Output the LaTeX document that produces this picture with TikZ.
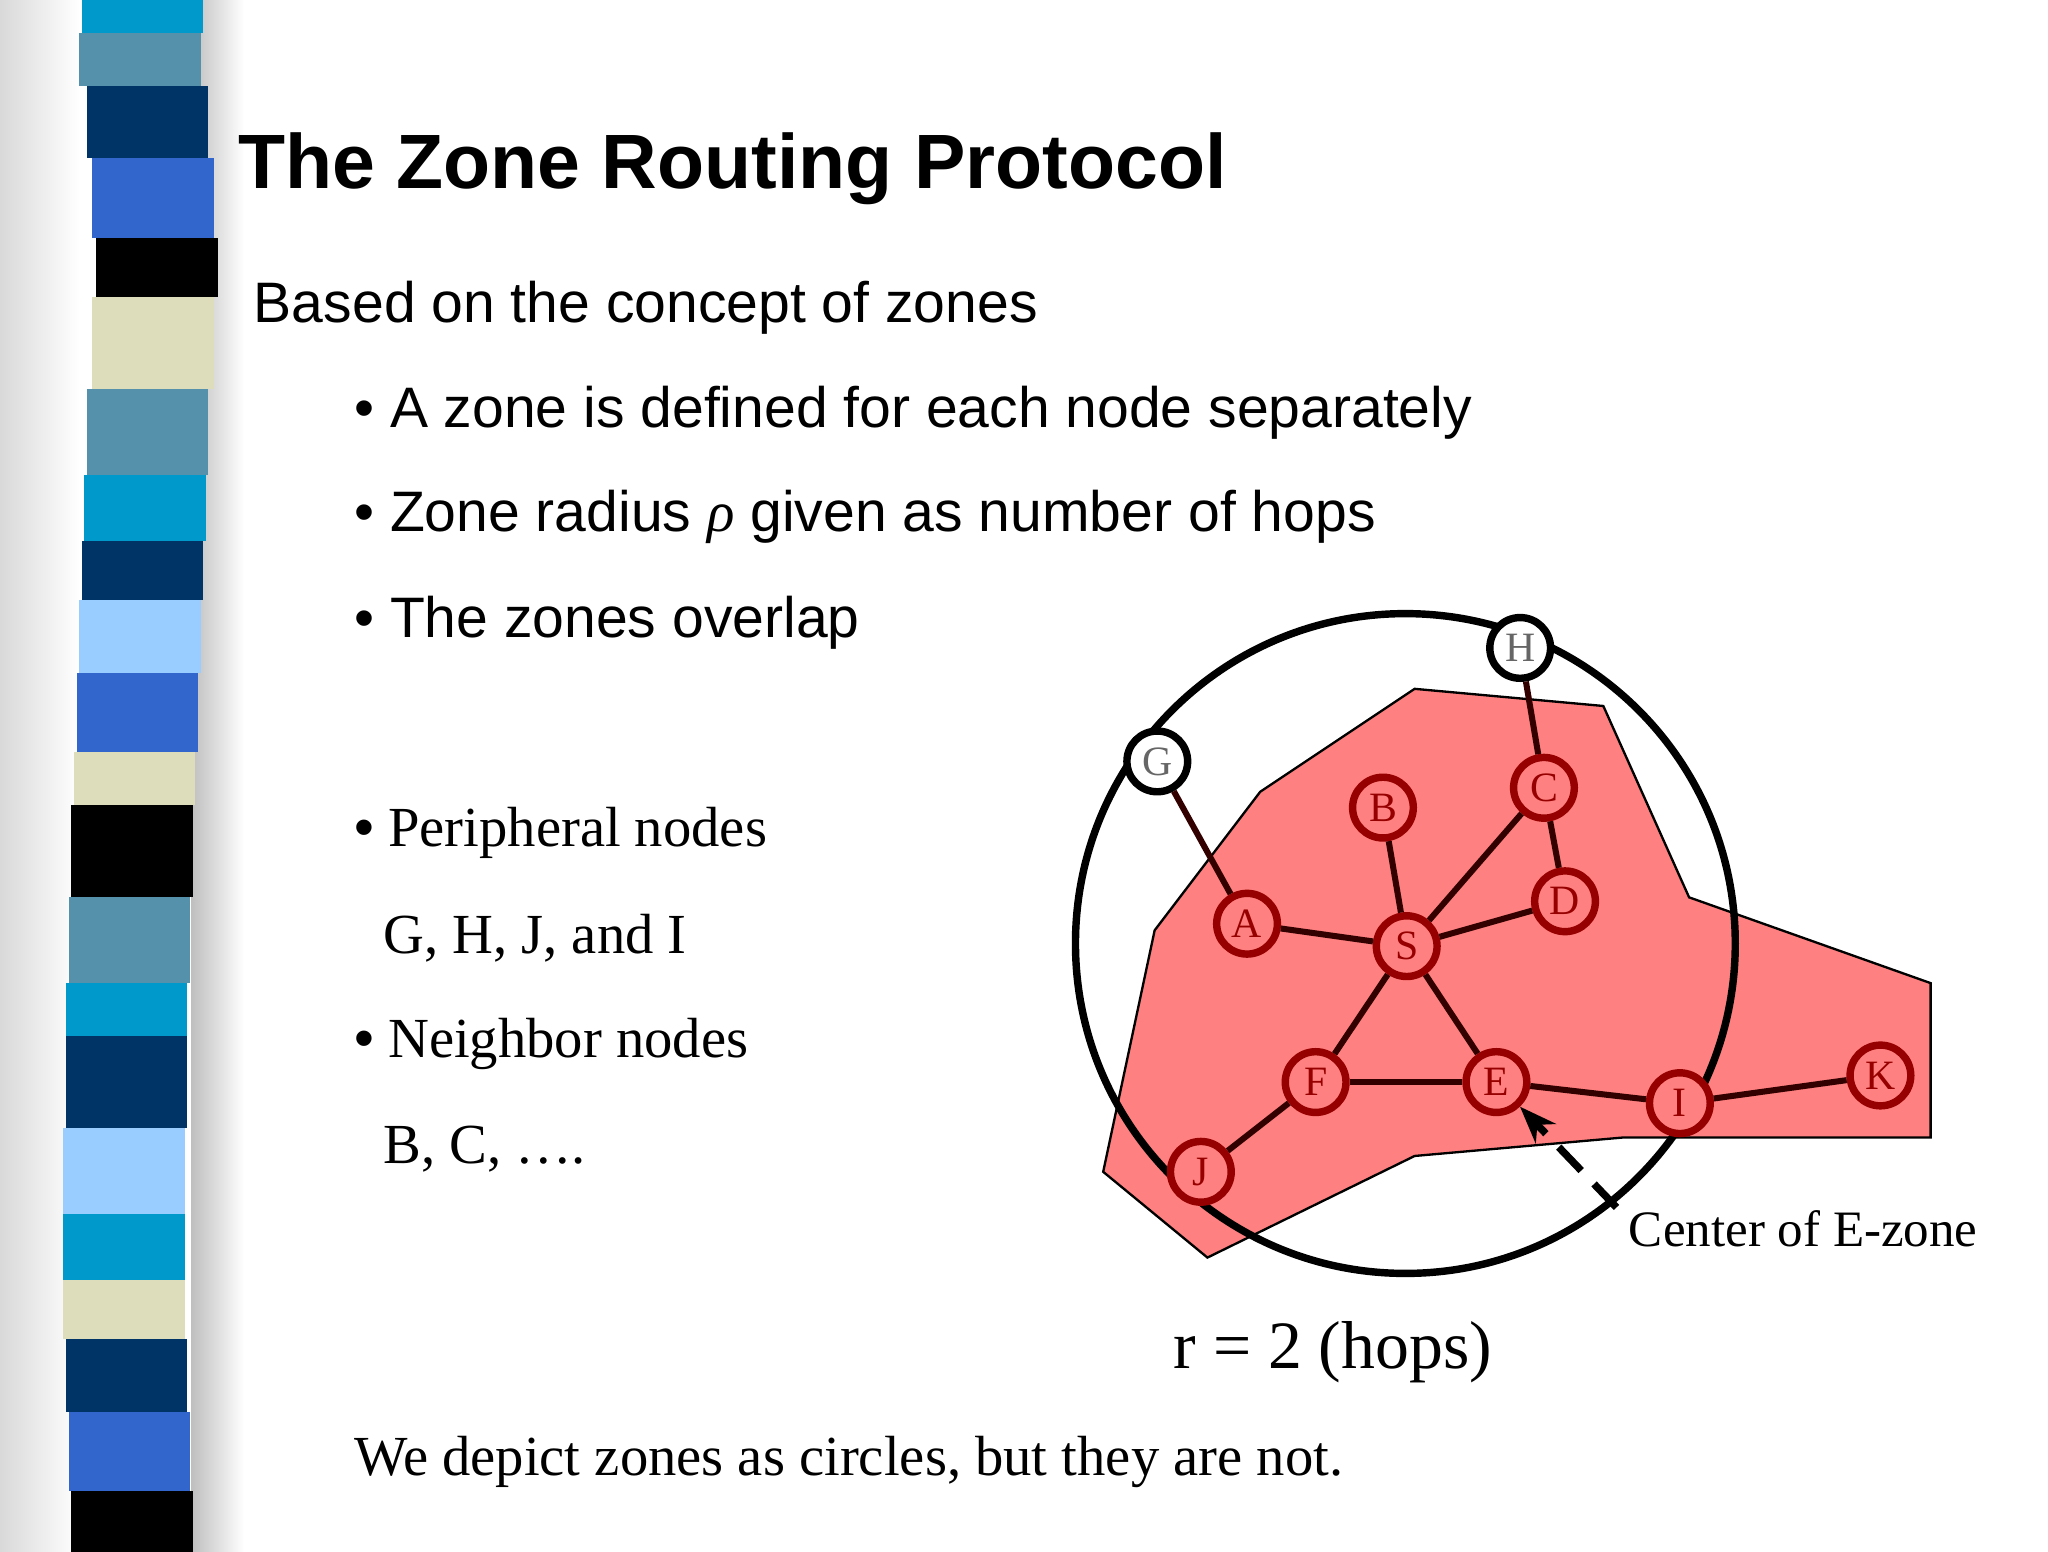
\documentclass[tikz,border=0pt]{standalone}
\usepackage{fontspec}
\setmainfont{Liberation Serif}
\setsansfont{Liberation Sans}
\usetikzlibrary{arrows.meta}
\definecolor{cy}{RGB}{0,153,204}\definecolor{sb}{RGB}{85,145,170}
\definecolor{nv}{RGB}{0,51,102}\definecolor{rb}{RGB}{51,102,204}
\definecolor{bg}{RGB}{221,221,187}\definecolor{lb}{RGB}{153,204,255}
\definecolor{zr}{RGB}{255,128,128}\definecolor{dr}{RGB}{150,0,0}
\tikzset{nd/.style={circle,draw=dr,line width=1.6pt,fill=zr,minimum size=0.46cm,inner sep=0pt,font=\fontsize{9}{9}\selectfont,text=dr},
pn/.style={nd,draw=black,fill=white,text=black!60},
ed/.style={line width=1.3pt,draw=black!80!red},
sans/.style={font=\sffamily\fontsize{12.3}{14}\selectfont,anchor=west},
ser/.style={font=\fontsize{12.2}{15}\selectfont,anchor=west}}
\begin{document}
\begin{tikzpicture}[x=0.01cm,y=-0.01cm]
\useasboundingbox (0,0) rectangle (1552,1176);
\fill[white] (0,0) rectangle (1552,1176);
\shade[left color=black!15,right color=white] (0,0) rectangle (60,1176);
\shade[left color=black!25,right color=white] (145,0) rectangle (185,1176);
\foreach \a/\b/\c/\xo in {0/25/cy/62,25/65/sb/60,65/120/nv/66,120/180/rb/70,180/225/black/73,225/295/bg/70,295/360/sb/66,360/410/cy/64,410/455/nv/62,455/510/lb/60,510/570/rb/58,570/610/bg/56,610/680/black/54,680/745/sb/52,745/785/cy/50,785/855/nv/50,855/920/lb/48,920/970/cy/48,970/1015/bg/48,1015/1070/nv/50,1070/1130/rb/52,1130/1176/black/54}
  \fill[\c] (\xo,\a) rectangle (\xo+92,\b);
\node[font=\sffamily\bfseries\fontsize{16.6}{20}\selectfont,anchor=west] (t) at (168,128) {The Zone Routing Protocol};
\node[sans] (l1) at (180,233) {Based on the concept of zones};
\node[sans] (l2) at (256,313) {\textbullet\ A zone is defined for each node separately};
\node[sans] (l3) at (256,392) {\textbullet\ Zone radius \textrm{\itshape ρ} given as number of hops};
\node[sans] (l4) at (256,472) {\textbullet\ The zones overlap};
\node[ser] (p1) at (256,631) {{\sffamily\textbullet} Peripheral nodes};
\node[ser] (p2) at (278,711) {G, H, J, and I};
\node[ser] (p3) at (256,791) {{\sffamily\textbullet} Neighbor nodes};
\node[ser] (p4) at (278,871) {B, C, ….};
\node[ser] (w) at (256,1108) {We depict zones as circles, but they are not.};
\node[font=\fontsize{14.6}{17}\selectfont] (r) at (1010,1025) {r = 2 (hops)};
\fill[zr,draw=black,line width=0.5pt] (1072,522)--(1215,535)--(1280,680)--(1463,745)--(1463,862)--(1230,862)--(1072,876)--(915,953)--(836,888)--(875,705)--(955,600)--cycle;
\draw[line width=1.6pt] (1065,715) circle (250);
\node[pn] (H) at (1152,491) {H}; \node[pn] (G) at (877,577) {G};
\node[nd] (B) at (1048,612) {B}; \node[nd] (C) at (1170,597) {C};
\node[nd] (D) at (1186,683) {D}; \node[nd] (A) at (945,700) {A};
\node[nd] (S) at (1066,717) {S}; \node[nd] (F) at (997,820) {F};
\node[nd] (E) at (1134,820) {E}; \node[nd] (I) at (1273,836) {I};
\node[nd] (K) at (1425,815) {K}; \node[nd] (J) at (910,888) {J};
\foreach \u/\v in {H/C,C/D,C/S,D/S,B/S,A/S,G/A,S/F,S/E,F/E,E/I,I/K,F/J}
  \draw[ed] (\u)--(\v);
\coordinate (ce) at (1225,915);
\draw[line width=1.6pt,dash pattern=on 7pt off 4pt,-{Stealth[length=8pt]}] (ce)--(E);
\node[font=\fontsize{11}{13}\selectfont,anchor=west] (cl) at (1222,931) {Center of E-zone};
\end{tikzpicture}
\end{document}
